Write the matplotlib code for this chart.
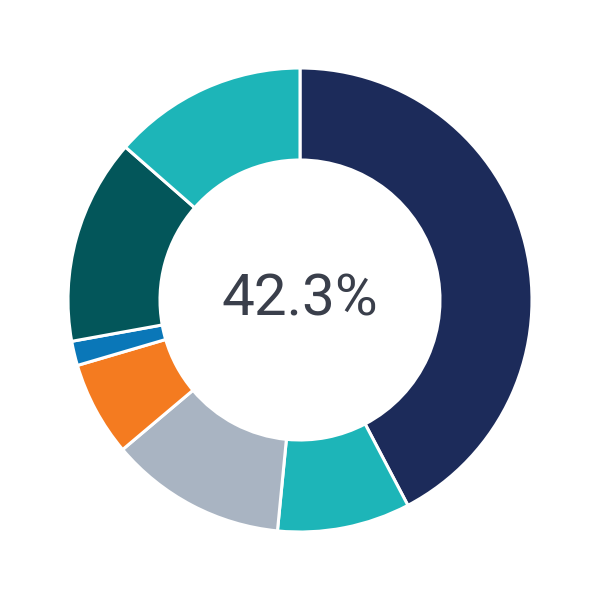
import matplotlib.pyplot as plt

# slice shares (%), clockwise from 12 o'clock
labels = ['A', 'B', 'C', 'D', 'E', 'F', 'G']
values = [42.3, 9.25, 12.3, 6.6, 1.7, 14.3, 13.55]
colors = ['#1c2b5a', '#1db5b8', '#a9b4c2', '#f47b20', '#0a77b8', '#03565a', '#1db5b8']
center_text = '42.3%'

fig = plt.figure(figsize=(6, 6), dpi=100)
ax = fig.add_axes([0, 0, 1, 1])

outer = 1.0
inner = 140 / 232
ax.pie(values, colors=colors, startangle=90, counterclock=False, radius=outer,
       wedgeprops=dict(width=outer - inner, edgecolor='white', linewidth=2.2))

ax.text(0, 0, center_text, ha='center', va='center', fontsize=42,
        family=['Roboto', 'DejaVu Sans'], color='#3a3f4b', fontweight='normal')

lim = 300 / 232
ax.set_xlim(-lim, lim)
ax.set_ylim(-lim, lim)
ax.set_aspect('equal')
ax.axis('off')

fig.savefig('out.png', dpi=100, facecolor='white')
